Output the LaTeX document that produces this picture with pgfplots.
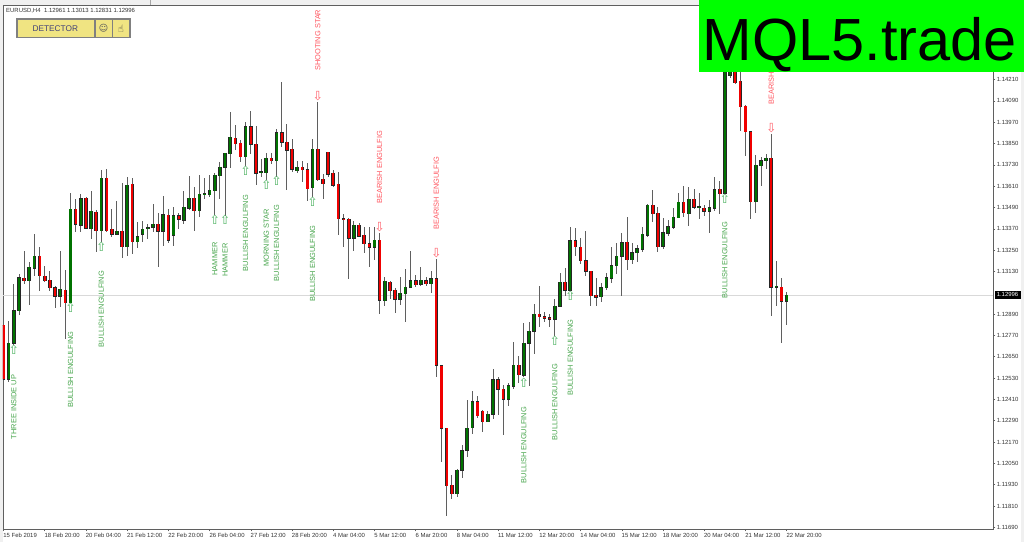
\documentclass[border=0pt]{standalone}
\usepackage{pgfplots}
\usepackage{pgfplotstable}
\usepackage{fontspec}
\pgfplotsset{compat=1.18}
\setmainfont{Liberation Sans}
\newfontfamily\djv{DejaVu Sans}
\definecolor{bullg}{RGB}{0,115,0}
\definecolor{bearr}{RGB}{240,0,0}
\definecolor{wick}{RGB}{95,95,95}
\definecolor{lblg}{RGB}{70,165,75}
\definecolor{lblr}{RGB}{255,85,95}
\definecolor{arrg}{RGB}{80,180,100}
\definecolor{arrr}{RGB}{255,100,110}
\definecolor{axln}{RGB}{95,95,95}
\definecolor{khaki}{RGB}{240,228,130}
\newcommand{\tk}{\fontsize{5.95}{7}\selectfont}
\newcommand{\lb}{\fontsize{7.4}{8}\selectfont}
% x top-of-body bottom-of-body high low
\pgfplotstableread{
x t b h l
1 1.12725 1.12523 1.12851 1.12509
2 1.12909 1.12725 1.13059 1.12716
3 1.13093 1.12909 1.13115 1.12884
5 1.13153 1.13077 1.13184 1.12941
6 1.13216 1.13147 1.13339 1.13106
11 1.13029 1.12991 1.13244 1.12928
13 1.13479 1.12954 1.13569 1.12952
15 1.13539 1.13389 1.13565 1.13351
17 1.13468 1.13370 1.13580 1.13310
19 1.13655 1.13359 1.13700 1.13297
22 1.13357 1.13339 1.13526 1.13335
24 1.13616 1.13269 1.13659 1.13216
26 1.13325 1.13297 1.13406 1.13260
27 1.13368 1.13339 1.13413 1.13293
28 1.13377 1.13371 1.13396 1.13310
29 1.13395 1.13378 1.13509 1.13353
31 1.13449 1.13357 1.13554 1.13274
33 1.13442 1.13335 1.13490 1.13274
35 1.13490 1.13419 1.13582 1.13396
36 1.13541 1.13486 1.13668 1.13475
38 1.13565 1.13471 1.13670 1.13437
39 1.13568 1.13562 1.13654 1.13537
40 1.13586 1.13561 1.13672 1.13550
41 1.13672 1.13584 1.13682 1.13447
42 1.13717 1.13668 1.13747 1.13539
43 1.13794 1.13716 1.13798 1.13442
44 1.13884 1.13792 1.14027 1.13713
47 1.13945 1.13775 1.13972 1.13721
50 1.13690 1.13685 1.13762 1.13663
51 1.13766 1.13685 1.13798 1.13644
53 1.13909 1.13753 1.13931 1.13663
57 1.13717 1.13696 1.13751 1.13682
60 1.13817 1.13601 1.13873 1.13547
68 1.13391 1.13316 1.13413 1.13244
72 1.13305 1.13265 1.13381 1.13194
74 1.13074 1.12965 1.13100 1.12935
77 1.13006 1.12973 1.13097 1.12941
78 1.13042 1.13004 1.13143 1.12847
79 1.13077 1.13042 1.13244 1.13035
81 1.13081 1.13059 1.13153 1.13048
83 1.13089 1.13062 1.13132 1.13006
88 1.12012 1.11879 1.12018 1.11858
89 1.12121 1.12012 1.12153 1.11969
90 1.12247 1.12125 1.12406 1.12084
91 1.12396 1.12250 1.12457 1.12215
94 1.12327 1.12284 1.12346 1.12281
95 1.12519 1.12327 1.12581 1.12299
98 1.12487 1.12410 1.12500 1.12374
99 1.12603 1.12485 1.12731 1.12468
101 1.12725 1.12547 1.12841 1.12534
102 1.12793 1.12725 1.12843 1.12485
103 1.12890 1.12794 1.12946 1.12663
107 1.12933 1.12860 1.12974 1.12766
108 1.13068 1.12935 1.13119 1.12931
110 1.13301 1.13023 1.13381 1.13019
116 1.13039 1.12987 1.13063 1.12959
117 1.13093 1.13038 1.13119 1.13025
118 1.13162 1.13093 1.13269 1.13063
119 1.13216 1.13162 1.13288 1.13117
120 1.13290 1.13215 1.13347 1.12993
122 1.13235 1.13196 1.13291 1.13170
123 1.13256 1.13235 1.13278 1.13184
124 1.13340 1.13254 1.13381 1.13241
125 1.13503 1.13335 1.13507 1.13325
128 1.13347 1.13273 1.13429 1.13254
129 1.13381 1.13346 1.13419 1.13329
130 1.13436 1.13378 1.13485 1.13367
131 1.13520 1.13432 1.13569 1.13429
133 1.13536 1.13454 1.13603 1.13385
135 1.13495 1.13489 1.13569 1.13425
137 1.13488 1.13470 1.13532 1.13347
138 1.13590 1.13486 1.13659 1.13471
140 1.14263 1.13569 1.14308 1.13568
141 1.14297 1.14235 1.14331 1.14218
146 1.13727 1.13522 1.13786 1.13460
147 1.13753 1.13725 1.13775 1.13610
148 1.13766 1.13753 1.13789 1.13704
150 1.13046 1.13041 1.13190 1.12937
152 1.12996 1.12961 1.13013 1.12831
}\upbars
\pgfplotstableread{
x t b h l
0 1.12828 1.12523 1.12856 1.12333
4 1.13091 1.13077 1.13246 1.13059
7 1.13216 1.13106 1.13269 1.13019
8 1.13104 1.13077 1.13160 1.13070
9 1.13080 1.13038 1.13134 1.13021
10 1.13038 1.12991 1.13048 1.12925
12 1.13025 1.12954 1.13138 1.12749
14 1.13479 1.13396 1.13539 1.13353
16 1.13541 1.13372 1.13550 1.13368
18 1.13464 1.13359 1.13475 1.13241
20 1.13655 1.13359 1.13708 1.13353
21 1.13367 1.13339 1.13479 1.13322
23 1.13357 1.13269 1.13627 1.13203
25 1.13620 1.13297 1.13654 1.13226
30 1.13395 1.13357 1.13457 1.13156
32 1.13447 1.13306 1.13479 1.13288
34 1.13442 1.13423 1.13457 1.13367
37 1.13541 1.13471 1.13606 1.13359
45 1.13880 1.13848 1.13954 1.13813
46 1.13851 1.13775 1.13869 1.13744
48 1.13945 1.13845 1.14032 1.13790
49 1.13845 1.13682 1.13950 1.13616
52 1.13766 1.13753 1.13794 1.13734
54 1.13909 1.13856 1.14194 1.13831
55 1.13858 1.13813 1.13957 1.13588
56 1.13817 1.13704 1.13873 1.13691
58 1.13717 1.13702 1.13751 1.13635
59 1.13702 1.13595 1.13741 1.13526
61 1.13817 1.13646 1.14083 1.13640
62 1.13648 1.13623 1.13678 1.13537
63 1.13800 1.13678 1.13803 1.13663
64 1.13683 1.13616 1.13700 1.13606
65 1.13620 1.13426 1.13687 1.13335
66 1.13426 1.13420 1.13453 1.13269
67 1.13423 1.13316 1.13429 1.13085
69 1.13391 1.13329 1.13404 1.13322
70 1.13333 1.13286 1.13378 1.13235
71 1.13286 1.13265 1.13378 1.13153
73 1.13305 1.12969 1.13347 1.12890
75 1.13068 1.13021 1.13076 1.12973
76 1.13025 1.12973 1.13035 1.12894
80 1.13077 1.13055 1.13109 1.13044
82 1.13077 1.13061 1.13097 1.13048
84 1.13089 1.12601 1.13198 1.12534
85 1.12600 1.12247 1.12603 1.12055
86 1.12247 1.11924 1.12248 1.11755
87 1.11926 1.11879 1.11984 1.11847
92 1.12396 1.12318 1.12430 1.12303
93 1.12342 1.12284 1.12350 1.12226
96 1.12519 1.12468 1.12537 1.12322
97 1.12466 1.12410 1.12490 1.12211
100 1.12603 1.12548 1.12655 1.12502
104 1.12890 1.12875 1.13048 1.12815
105 1.12875 1.12868 1.12901 1.12847
106 1.12869 1.12860 1.12890 1.12819
109 1.13070 1.13023 1.13147 1.12993
111 1.13301 1.13269 1.13372 1.13218
112 1.13265 1.13190 1.13316 1.13170
113 1.13190 1.13130 1.13357 1.13104
114 1.13130 1.12993 1.13132 1.12935
115 1.12995 1.12984 1.13091 1.12937
121 1.13293 1.13196 1.13437 1.13138
126 1.13503 1.13454 1.13588 1.13409
127 1.13457 1.13269 1.13494 1.13241
132 1.13520 1.13460 1.13612 1.13437
134 1.13536 1.13490 1.13592 1.13479
136 1.13485 1.13470 1.13502 1.13443
139 1.13593 1.13567 1.13640 1.13453
142 1.14291 1.14192 1.14319 1.14184
143 1.14200 1.14057 1.14286 1.13922
144 1.14059 1.13916 1.14066 1.13781
145 1.13916 1.13522 1.13920 1.13423
149 1.13766 1.13040 1.13903 1.12880
151 1.13042 1.12961 1.13091 1.12725
}\dnbars
\pgfplotstableread{
x y
2 1.12687
13 1.12924
19 1.13267
41 1.13423
43 1.13422
47 1.13695
51 1.13620
53 1.13638
60 1.13520
101 1.12503
107 1.12742
110 1.12991
140 1.13541
}\uparrows
\pgfplotstableread{
x y
61 1.14118
73 1.13381
84 1.13235
149 1.13937
}\dnarrows
\newcommand{\wicks}[1]{%
 \addplot[draw=none,forget plot,error bars/.cd,y dir=both,y explicit,error mark=none,
   error bar style={color=wick,line width=0.85pt}]
  table[x=x,y=t,y error plus expr=\thisrow{h}-\thisrow{t},y error minus expr=\thisrow{t}-\thisrow{l}]{#1};}
\newcommand{\bodies}[2]{%
 \addplot[draw=none,forget plot,error bars/.cd,y dir=both,y explicit,error mark=none,
   error bar style={color=black!85,line width=3.6pt}]
  table[x=x,y=t,y error plus expr=0.00003,y error minus expr=\thisrow{t}-\thisrow{b}+0.00003]{#1};
 \addplot[draw=none,forget plot,error bars/.cd,y dir=minus,y explicit,error mark=none,
   error bar style={color=#2,line width=2.1pt}]
  table[x=x,y=t,y error minus expr=\thisrow{t}-\thisrow{b}]{#1};}
\begin{document}
\begin{tikzpicture}
\path[use as bounding box] (0pt,0pt) rectangle (1024pt,542pt);
\fill[white] (0pt,0pt) rectangle (1024pt,542pt);
\fill[black!6] (0pt,537pt) rectangle (1024pt,542pt);
\fill[black!6] (0pt,0pt) rectangle (3pt,542pt);
\fill[black!6] (1021pt,0pt) rectangle (1024pt,542pt);
\draw[black!35,line width=0.6pt] (150pt,537pt) -- (150pt,542pt);
\begin{axis}[
  at={(3pt,12.7pt)},anchor=south west,
  scale only axis,width=990.3pt,height=524.3pt,
  xmin=-0.1,xmax=192.1,ymin=1.116787,ymax=1.146293,
  axis line style={color=axln,line width=0.8pt},
  tick align=outside,tick style={color=axln,line width=0.5pt},
  major tick length=2pt,
  xtick pos=lower,ytick pos=right,
  xtick={0,8,16,24,32,40,48,56,64,72,80,88,96,104,112,120,128,136,144,152},
  xticklabels={15 Feb 2019,18 Feb 20:00,20 Feb 04:00,21 Feb 12:00,22 Feb 20:00,26 Feb 04:00,27 Feb 12:00,28 Feb 20:00,4 Mar 04:00,5 Mar 12:00,6 Mar 20:00,8 Mar 04:00,11 Mar 12:00,12 Mar 20:00,14 Mar 04:00,15 Mar 12:00,18 Mar 20:00,20 Mar 04:00,21 Mar 12:00,22 Mar 20:00},
  xticklabel style={font=\tk,text=black!80,anchor=north west,inner sep=0pt,xshift=-0.3pt,yshift=-1.6pt},
  ytick={1.1169,1.1181,1.1193,1.1205,1.1217,1.1229,1.1241,1.1253,1.1265,1.1277,1.1289,1.1313,1.1325,1.1337,1.1349,1.1361,1.1373,1.1385,1.1397,1.1409,1.1421},
  scaled y ticks=false,
  yticklabel style={font=\tk,text=black!80,anchor=west,inner sep=0pt,xshift=1.4pt,
    /pgf/number format/.cd,fixed,fixed zerofill,precision=5,1000 sep={},assume math mode=true},
  clip=true,
]
\addplot[draw=black!15,line width=0.8pt,forget plot] coordinates {(-0.1,1.12996) (192.1,1.12996)};
\wicks{\upbars}
\wicks{\dnbars}
\bodies{\upbars}{bullg}
\bodies{\dnbars}{bearr}
\addplot[only marks,forget plot,mark=text,mark size=2pt,text mark={\djv\fontsize{12.5}{14}\selectfont\textcolor{arrg}{⇧}}] table[x=x,y=y]{\uparrows};
\addplot[only marks,forget plot,mark=text,mark size=2pt,text mark={\djv\fontsize{12.5}{14}\selectfont\textcolor{arrr}{⇩}}] table[x=x,y=y]{\dnarrows};
\begin{scope}[every node/.style={rotate=90,font=\lb,inner sep=0pt,anchor=center}]
\node[text=lblg] at (axis cs:2,1.12367) {THREE INSIDE UP};
\node[text=lblg] at (axis cs:13,1.12578) {BULLISH ENGULFING};
\node[text=lblg] at (axis cs:19,1.12918) {BULLISH ENGULFING};
\node[text=lblg] at (axis cs:41,1.13200) {HAMMER};
\node[text=lblg] at (axis cs:43,1.13194) {HAMMER};
\node[text=lblg] at (axis cs:47,1.13346) {BULLISH ENGULFING};
\node[text=lblg] at (axis cs:51,1.13318) {MORNING STAR};
\node[text=lblg] at (axis cs:53,1.13290) {BULLISH ENGULFING};
\node[text=lblg] at (axis cs:60,1.13173) {BULLISH ENGULFING};
\node[text=lblr] at (axis cs:61,1.14432) {SHOOTING STAR};
\node[text=lblr] at (axis cs:73,1.13717) {BEARISH ENGULFIG};
\node[text=lblr] at (axis cs:84,1.13571) {BEARISH ENGULFIG};
\node[text=lblg] at (axis cs:101,1.12153) {BULLISH ENGULFING};
\node[text=lblg] at (axis cs:107,1.12395) {BULLISH ENGULFING};
\node[text=lblg] at (axis cs:110,1.12644) {BULLISH ENGULFING};
\node[text=lblg] at (axis cs:140,1.13194) {BULLISH ENGULFING};
\node[text=lblr] at (axis cs:149,1.14272) {BEARISH ENGULFIG};
\end{scope}
\end{axis}
% current price tag
\fill[black] (994.5pt,243pt) rectangle (1020.5pt,251.5pt);
\node[font=\tk,text=white,inner sep=0pt] at (1007.5pt,247.2pt) {1.12996};
% header text
\node[font=\tk,text=black!80,anchor=west,inner sep=0pt] at (6pt,531.5pt) {EURUSD,H4\hspace{3.5pt}1.12961 1.13013 1.12831 1.12996};
% indicator panel
\draw[black!50,fill=khaki,line width=1.2pt] (17pt,504.7pt) rectangle (130pt,523pt);
\draw[black!50,line width=1.8pt] (95pt,504.7pt) -- (95pt,523pt);
\draw[black!50,line width=1.8pt] (112.5pt,504.7pt) -- (112.5pt,523pt);
\definecolor{btn}{RGB}{65,65,120}
\node[font=\fontsize{8.3}{9}\selectfont,text=btn,inner sep=0pt] at (55.3pt,513.3pt) {DETECTOR};
\node[font=\djv\fontsize{9}{10}\selectfont,text=black!65,inner sep=0pt] at (103.5pt,513.5pt) {☺};
\node[font=\djv\fontsize{10}{11}\selectfont,text=black!75,inner sep=0pt] at (120.8pt,513.5pt) {☝};
% site banner
\fill[green] (699pt,470pt) rectangle (1024pt,542pt);
\node[font=\fontsize{59.5}{62}\selectfont,text=black,anchor=base west,inner sep=0pt] at (702.5pt,481.3pt) {MQL5.trade};
\end{tikzpicture}
\end{document}
